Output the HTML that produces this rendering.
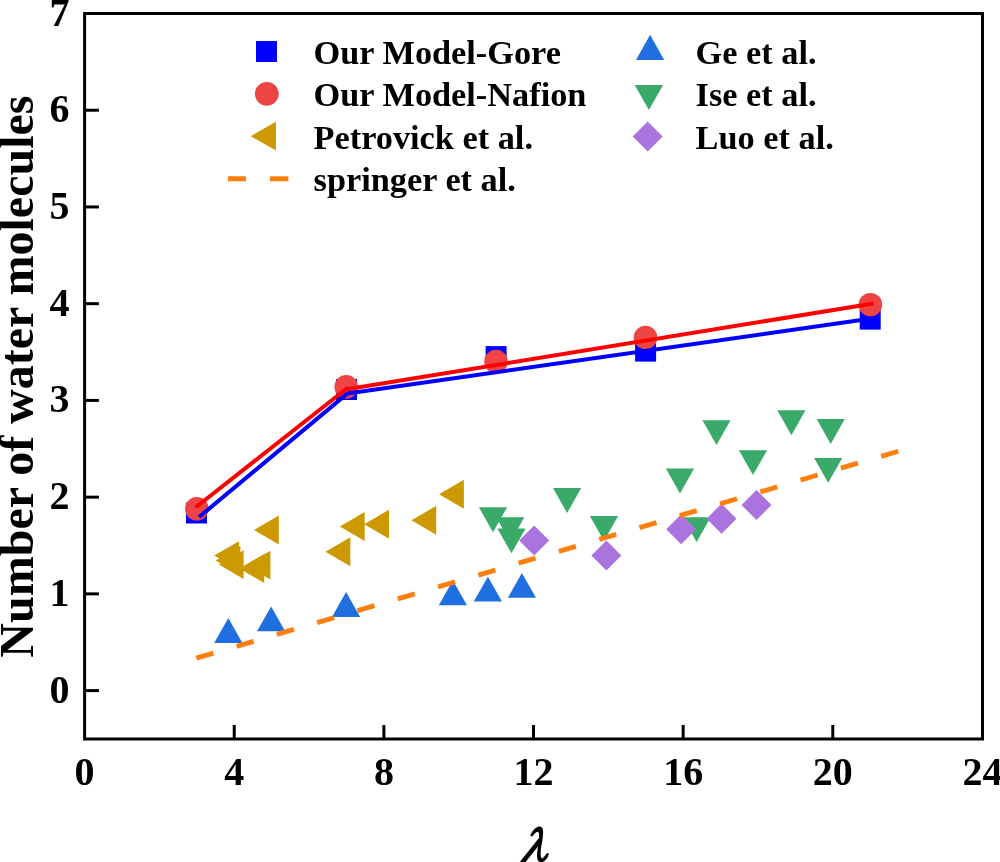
<!DOCTYPE html>
<html><head><meta charset="utf-8"><style>html,body{margin:0;padding:0;background:#fff;overflow:hidden}svg{display:block;will-change:transform}</style></head>
<body><svg width="1000" height="862" viewBox="0 0 1000 862">
<rect width="1000" height="862" fill="#fff"/>
<rect x="186" y="502.5" width="21" height="21" fill="#0000FF"/>
<rect x="336" y="379" width="21" height="21" fill="#0000FF"/>
<rect x="485.6" y="346.1" width="21" height="21" fill="#0000FF"/>
<rect x="635.1" y="340.6" width="21" height="21" fill="#0000FF"/>
<rect x="859.7" y="308.6" width="21" height="21" fill="#0000FF"/>
<circle cx="196.8" cy="508.8" r="11.8" fill="#EE4444"/>
<circle cx="346.2" cy="386.9" r="11.8" fill="#EE4444"/>
<circle cx="496" cy="361.6" r="11.8" fill="#EE4444"/>
<circle cx="645.5" cy="337.5" r="11.8" fill="#EE4444"/>
<circle cx="870.4" cy="304.7" r="11.8" fill="#EE4444"/>
<path d="M214.2 555.6L239 541.15L239 570.05Z" fill="#CC9900"/>
<path d="M215.6 560.4L240.4 545.95L240.4 574.85Z" fill="#CC9900"/>
<path d="M218.8 564.6L243.6 550.15L243.6 579.05Z" fill="#CC9900"/>
<path d="M245.6 565.1L270.4 550.65L270.4 579.55Z" fill="#CC9900"/>
<path d="M239.4 568.5L264.2 554.05L264.2 582.95Z" fill="#CC9900"/>
<path d="M254 530L278.8 515.55L278.8 544.45Z" fill="#CC9900"/>
<path d="M325.5 551.8L350.3 537.35L350.3 566.25Z" fill="#CC9900"/>
<path d="M339.9 526.5L364.7 512.05L364.7 540.95Z" fill="#CC9900"/>
<path d="M364.2 524.3L389 509.85L389 538.75Z" fill="#CC9900"/>
<path d="M411.4 520.3L436.2 505.85L436.2 534.75Z" fill="#CC9900"/>
<path d="M439.1 494.2L463.9 479.75L463.9 508.65Z" fill="#CC9900"/>
<path d="M478.9 507.3L507.1 507.3L493 532.2Z" fill="#3AAA6A"/>
<path d="M496.2 517.2L524.4 517.2L510.3 542.1Z" fill="#3AAA6A"/>
<path d="M497.4 528.4L525.6 528.4L511.5 553.3Z" fill="#3AAA6A"/>
<path d="M553 488.1L581.2 488.1L567.1 513Z" fill="#3AAA6A"/>
<path d="M589.9 516L618.1 516L604 540.9Z" fill="#3AAA6A"/>
<path d="M665.9 468.6L694.1 468.6L680 493.5Z" fill="#3AAA6A"/>
<path d="M702.4 420.2L730.6 420.2L716.5 445.1Z" fill="#3AAA6A"/>
<path d="M738.9 450.2L767.1 450.2L753 475.1Z" fill="#3AAA6A"/>
<path d="M777.3 410.3L805.5 410.3L791.4 435.2Z" fill="#3AAA6A"/>
<path d="M816.6 419.1L844.8 419.1L830.7 444Z" fill="#3AAA6A"/>
<path d="M814.1 457.9L842.3 457.9L828.2 482.8Z" fill="#3AAA6A"/>
<path d="M682.5 517.2L710.7 517.2L696.6 542.1Z" fill="#3AAA6A"/>
<path d="M534.2 525.6L549.2 540.6L534.2 555.6L519.2 540.6Z" fill="#AA73DD"/>
<path d="M606.4 540.6L621.4 555.6L606.4 570.6L591.4 555.6Z" fill="#AA73DD"/>
<path d="M681.2 514.2L696.2 529.2L681.2 544.2L666.2 529.2Z" fill="#AA73DD"/>
<path d="M721.5 503.7L736.5 518.7L721.5 533.7L706.5 518.7Z" fill="#AA73DD"/>
<path d="M756.5 490L771.5 505L756.5 520L741.5 505Z" fill="#AA73DD"/>
<path d="M228.3 618.1L242.4 643L214.2 643Z" fill="#1F6FE0"/>
<path d="M271.1 606.4L285.2 631.3L257 631.3Z" fill="#1F6FE0"/>
<path d="M346.1 592L360.2 616.9L332 616.9Z" fill="#1F6FE0"/>
<path d="M452.9 580.4L467 605.3L438.8 605.3Z" fill="#1F6FE0"/>
<path d="M487.9 576.7L502 601.6L473.8 601.6Z" fill="#1F6FE0"/>
<path d="M521.9 572.9L536 597.8L507.8 597.8Z" fill="#1F6FE0"/>
<path d="M199.1 517L347.5 393.4M347.5 393.4L873.4 318.3" fill="none" stroke="#0000FF" stroke-width="4.0" stroke-linejoin="miter"/>
<path d="M195.8 507.3L348 387.5M346.6 389.3L873.4 303.5" fill="none" stroke="#FF0000" stroke-width="4"/>
<path d="M196.3 658.2L907.62 448.5" stroke="#FF7F0E" stroke-width="4.9" stroke-dasharray="17.8 24.2" fill="none"/>
<rect x="84.6" y="13.5" width="897.9" height="725.5" fill="none" stroke="#000" stroke-width="3"/>
<path d="M84.6 690.6H98.9" stroke="#000" stroke-width="3"/>
<path d="M84.6 593.87H98.9" stroke="#000" stroke-width="3"/>
<path d="M84.6 497.14H98.9" stroke="#000" stroke-width="3"/>
<path d="M84.6 400.41H98.9" stroke="#000" stroke-width="3"/>
<path d="M84.6 303.68H98.9" stroke="#000" stroke-width="3"/>
<path d="M84.6 206.95H98.9" stroke="#000" stroke-width="3"/>
<path d="M84.6 110.22H98.9" stroke="#000" stroke-width="3"/>
<path d="M234.24 739V725" stroke="#000" stroke-width="3"/>
<path d="M383.88 739V725" stroke="#000" stroke-width="3"/>
<path d="M533.52 739V725" stroke="#000" stroke-width="3"/>
<path d="M683.16 739V725" stroke="#000" stroke-width="3"/>
<path d="M832.8 739V725" stroke="#000" stroke-width="3"/>
<g font-family="Liberation Serif" font-weight="bold" font-size="40" fill="#000">
<text x="69.5" y="702.6" text-anchor="end">0</text>
<text x="69.5" y="605.87" text-anchor="end">1</text>
<text x="69.5" y="509.14" text-anchor="end">2</text>
<text x="69.5" y="412.41" text-anchor="end">3</text>
<text x="69.5" y="315.68" text-anchor="end">4</text>
<text x="69.5" y="218.95" text-anchor="end">5</text>
<text x="69.5" y="122.22" text-anchor="end">6</text>
<text x="69.5" y="25.49" text-anchor="end">7</text>
<text x="84.6" y="784.5" text-anchor="middle">0</text>
<text x="234.24" y="784.5" text-anchor="middle">4</text>
<text x="383.88" y="784.5" text-anchor="middle">8</text>
<text x="533.52" y="784.5" text-anchor="middle">12</text>
<text x="683.16" y="784.5" text-anchor="middle">16</text>
<text x="832.8" y="784.5" text-anchor="middle">20</text>
<text x="982.44" y="784.5" text-anchor="middle">24</text>
</g>

<rect x="256" y="41" width="21" height="21" fill="#0000FF"/>
<circle cx="266.8" cy="93.8" r="11.9" fill="#EE4444"/>
<path d="M250.8 136.2L275.9 121.7L275.9 150.4Z" fill="#CC9900"/>
<path d="M228 178.7H246M270 178.7H288.4" stroke="#FF7F0E" stroke-width="5"/>
<path d="M650.1 34.8L664.2 60L636 60Z" fill="#1F6FE0"/>
<path d="M634.7 85.1L663.1 85.1L648.9 110.1Z" fill="#3AAA6A"/>
<path d="M647.7 121.4L662.7 136.4L647.7 151.4L632.7 136.4Z" fill="#AA73DD"/>
<g font-family="Liberation Serif" font-weight="bold" font-size="34.3">
<text x="313.6" y="63.8">Our Model-Gore</text>
<text x="313.6" y="106.3">Our Model-Nafion</text>
<text x="313.6" y="148.8">Petrovick et al.</text>
<text x="313.6" y="190.9">springer et al.</text>
<text x="695.6" y="63.8">Ge et al.</text>
<text x="695.6" y="106.3">Ise et al.</text>
<text x="695.6" y="148.8">Luo et al.</text>
</g>

<text x="0" y="0" transform="translate(33,376.6) rotate(-90)" text-anchor="middle" font-family="Liberation Serif" font-weight="bold" font-size="48">Number of water molecules</text>
<path d="M530.67 834.50C531.15 833.43 532.47 831.02 533.79 829.70C535.11 828.38 537.19 826.88 538.59 826.58C539.99 826.28 541.44 826.93 542.19 827.90C542.94 828.87 543.07 830.25 543.09 832.40C543.11 834.55 542.68 838.00 542.31 840.79C541.94 843.59 541.11 846.59 540.87 849.19C540.63 851.79 540.57 854.87 540.87 856.39C541.17 857.91 541.80 858.66 542.67 858.31C543.54 857.96 545.25 855.16 546.09 854.29C546.93 853.42 547.28 853.04 547.71 853.09C548.14 853.14 548.84 853.66 548.67 854.59C548.50 855.52 547.72 857.45 546.69 858.67C545.66 859.89 543.89 861.54 542.49 861.91C541.09 862.28 539.19 861.91 538.29 860.89C537.39 859.87 537.19 857.84 537.09 855.79C536.99 853.74 537.39 851.09 537.69 848.59C537.99 846.09 538.66 843.19 538.89 840.79C539.12 838.40 539.20 835.68 539.07 834.20C538.94 832.72 538.64 832.20 538.11 831.92C537.58 831.64 536.83 831.82 535.89 832.52C534.95 833.22 533.30 835.52 532.47 836.12C531.64 836.72 531.21 836.39 530.91 836.12C530.61 835.85 530.19 835.57 530.67 834.50Z" fill="#000"/><path d="M540.3 840L519.5 866" stroke="#000" stroke-width="4.5"/>
</svg></body></html>
